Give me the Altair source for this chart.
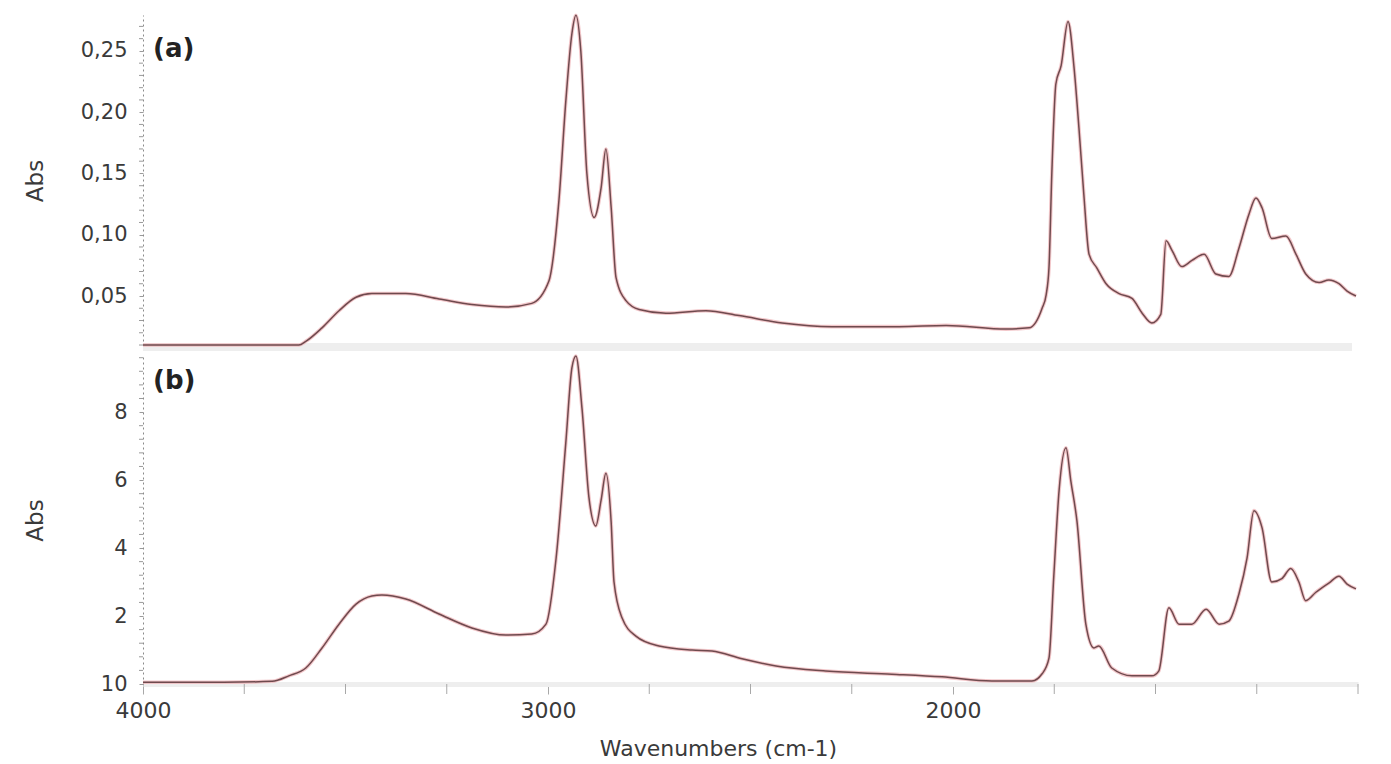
import altair as alt
import pandas as pd

# ---- data ----
WN_A = [4000, 3800, 3615, 3598, 3558, 3516, 3474, 3435, 3351, 3269, 3188, 3104, 3040,
        2998, 2973, 2956, 2941, 2931, 2919, 2904, 2886, 2869, 2857, 2844, 2832, 2807,
        2775, 2709, 2610, 2528, 2422, 2299, 2133, 2017, 1869, 1812, 1780, 1770, 1763,
        1756, 1746, 1733, 1716, 1701, 1689, 1677, 1664, 1645, 1622, 1590, 1558, 1533,
        1509, 1487, 1474, 1459, 1435, 1410, 1380, 1351, 1319, 1294, 1269, 1252, 1237,
        1213, 1178, 1153, 1129, 1096, 1072, 1047, 1027, 1005]
ABS_A = [0.010, 0.010, 0.010, 0.013, 0.024, 0.038, 0.049, 0.052, 0.052, 0.0475, 0.043,
         0.041, 0.044, 0.062, 0.128, 0.209, 0.264, 0.279, 0.250, 0.150, 0.114, 0.138,
         0.170, 0.122, 0.065, 0.046, 0.039, 0.036, 0.038, 0.034, 0.028, 0.025, 0.025,
         0.026, 0.023, 0.024, 0.040, 0.051, 0.073, 0.150, 0.223, 0.238, 0.274, 0.236,
         0.187, 0.133, 0.084, 0.073, 0.060, 0.052, 0.048, 0.036, 0.028, 0.035, 0.095,
         0.087, 0.074, 0.079, 0.084, 0.068, 0.066, 0.089, 0.117, 0.130, 0.122, 0.097,
         0.099, 0.084, 0.068, 0.061, 0.063, 0.060, 0.054, 0.050]

WN_B = [4000, 3800, 3681, 3640, 3598, 3558, 3516, 3474, 3435, 3410, 3351, 3269, 3188,
        3104, 3040, 3005, 2980, 2956, 2941, 2931, 2916, 2899, 2882, 2869, 2857, 2844,
        2837, 2817, 2783, 2726, 2644, 2595, 2521, 2437, 2314, 2151, 2027, 1904, 1805,
        1780, 1763, 1751, 1738, 1721, 1709, 1694, 1672, 1652, 1640, 1608, 1558, 1509,
        1492, 1467, 1442, 1410, 1375, 1343, 1319, 1294, 1274, 1257, 1237, 1213, 1188,
        1166, 1146, 1129, 1104, 1072, 1047, 1027, 1005]
ABS_B = [0.05, 0.05, 0.08, 0.24, 0.47, 1.06, 1.76, 2.35, 2.59, 2.62, 2.50, 2.06, 1.65,
         1.44, 1.47, 1.76, 3.7, 7.1, 9.3, 9.65, 8.1, 5.5, 4.65, 5.4, 6.2, 4.75,
         3.0, 1.94, 1.41, 1.12, 1.00, 0.97, 0.74, 0.53, 0.38, 0.29, 0.21, 0.09, 0.09,
         0.30, 0.76, 3.2, 5.7, 6.95, 5.97, 4.8, 1.76, 1.06, 1.12, 0.47, 0.24, 0.24,
         0.38, 2.24, 1.76, 1.76, 2.20, 1.76, 1.85, 2.65, 3.7, 5.1, 4.6, 3.0, 3.1,
         3.4, 3.0, 2.45, 2.7, 2.97, 3.17, 2.94, 2.8]

X_LABEL_TICKS = [4000, 3000, 2000]
X_MINOR_TICKS = [3750, 3500, 3250, 2750, 2500, 2250, 1750, 1500, 1250, 1000]
Y_MAJOR_A = [0.05, 0.10, 0.15, 0.20, 0.25]
Y_MINOR_A = [0.01, 0.02, 0.03, 0.04, 0.06, 0.07, 0.08, 0.09, 0.11, 0.12, 0.13, 0.14,
             0.16, 0.17, 0.18, 0.19, 0.21, 0.22, 0.23, 0.24, 0.26, 0.27]
Y_MAJOR_B = [0, 2, 4, 6, 8]
Y_MINOR_B = [0.4, 0.8, 1.2, 1.6, 2.4, 2.8, 3.2, 3.6, 4.4, 4.8, 5.2, 5.6, 6.4, 6.8,
             7.2, 7.6, 8.4, 8.8, 9.2, 9.6]
PANEL_LABELS = ["(a)", "(b)"]

FONT = "DejaVu Sans"
LINE_DARK = "#6f4a4e"
LINE_HALO = "#efb9bd"
TXT = "#3a3a3a"
W = 1215
H_A = 331
H_B = 328

df_a = pd.DataFrame({"wn": WN_A, "abs": ABS_A})
df_b = pd.DataFrame({"wn": WN_B, "abs": ABS_B})

label_a = "replace(format(datum.value, '.2f'), '.', ',')"
label_b = "datum.value == 0 ? '10' : format(datum.value, 'd')"


def y_axis(values, label_expr, height):
    return alt.Axis(
        values=values, labelExpr=label_expr, grid=False,
        tickSize=4, tickColor="#9a9a9a", tickWidth=1,
        domainDash=[2, 3], domainColor="#8a8a8a", domainWidth=1,
        labelPadding=12, labelFont=FONT, labelColor=TXT, labelFontSize=21,
        labelOverlap=False,
        title="Abs", titleFont=FONT, titleFontSize=23, titleFontWeight="normal",
        titleColor=TXT, titleX=-108, titleY=height / 2, titleAngle=270,
        titleBaseline="middle", titleAlign="center",
    )


x_scale = alt.Scale(domain=[4000, 1000], nice=False, zero=False)

x_axis_bottom = alt.Axis(
    values=X_LABEL_TICKS, grid=False, format="d",
    labelFlush=False, labelOverlap=False,
    tickSize=10, tickColor="#a8a8a8", tickWidth=1,
    domainColor="#eeeeee", domainWidth=5,
    labelPadding=6, labelFont=FONT, labelColor=TXT, labelFontSize=22,
    title="Wavenumbers (cm-1)", titleFont=FONT, titleFontSize=22,
    titleFontWeight="normal", titleColor=TXT,
    titleX=575, titleY=71, titleBaseline="alphabetic", titleAlign="center",
)


def panel(df, ydom, ymajor, yminor, lexpr, height, bottom_axis, label, ly):
    base = alt.Chart(df)
    yscale = alt.Scale(domain=ydom, nice=False, zero=False)
    yax = y_axis(ymajor, lexpr, height)
    if bottom_axis:
        x_enc = alt.X("wn:Q", scale=x_scale, axis=x_axis_bottom,
                      title="Wavenumbers (cm-1)")
    else:
        x_enc = alt.X("wn:Q", scale=x_scale, axis=None)
    y_enc = alt.Y("abs:Q", scale=yscale, axis=yax, title="Abs")
    halo = base.mark_line(color=LINE_HALO, strokeWidth=3.6, interpolate="monotone",
                          opacity=0.8).encode(x=x_enc, y=y_enc)
    line = base.mark_line(color=LINE_DARK, strokeWidth=1.5,
                          interpolate="monotone").encode(x=x_enc, y=y_enc)
    txt = alt.Chart(pd.DataFrame({"t": [label]})).mark_text(
        font=FONT, fontSize=26, fontWeight="bold", color="#222222",
        align="left", baseline="middle"
    ).encode(text="t:N", x=alt.value(10), y=alt.value(ly))
    yminor_ticks = alt.Chart(pd.DataFrame({"abs": yminor})).mark_rule(
        color="#9a9a9a", strokeWidth=1
    ).encode(y=y_enc, x=alt.value(-4), x2=alt.value(0))
    layers = [halo, line, txt, yminor_ticks]
    if bottom_axis:
        xminor_ticks = alt.Chart(pd.DataFrame({"wn": X_MINOR_TICKS})).mark_rule(
            color="#a8a8a8", strokeWidth=1
        ).encode(x=x_enc, y=alt.value(height), y2=alt.value(height + 10))
        layers.append(xminor_ticks)
    else:
        band = alt.Chart(pd.DataFrame({"t": [label]})).mark_rule(
            color="#eeeeee", strokeWidth=8
        ).encode(x=alt.value(0), x2=alt.value(W - 6), y=alt.value(height + 1))
        layers = [band] + layers
    return alt.layer(*layers).properties(width=W, height=height)


top = panel(df_a, [0.0092, 0.2793], Y_MAJOR_A, Y_MINOR_A, label_a, H_A, False,
            PANEL_LABELS[0], 34)
bottom = panel(df_b, [0, 9.65], Y_MAJOR_B, Y_MINOR_B, label_b, H_B, True,
               PANEL_LABELS[1], 25)

chart = alt.vconcat(top, bottom, spacing=10, bounds="flush").properties(
    padding={"left": 16, "top": 0, "right": 10, "bottom": 5},
    background="white",
).configure_view(strokeWidth=0)

chart.save("out.html", embed_options={"renderer": "svg", "actions": False})
